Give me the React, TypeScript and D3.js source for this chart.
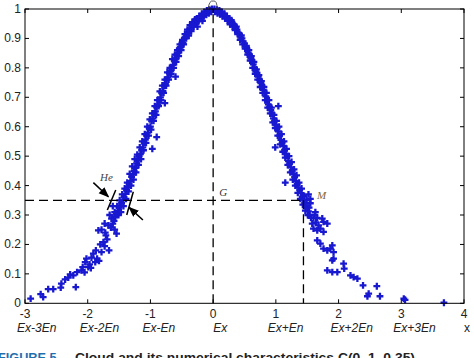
import React from "react";
import * as d3 from "d3";

const W = 474;
const H = 358;

const X_TICKS = [-3, -2, -1, 0, 1, 2, 3, 4];
const X_SUB = ["Ex-3En", "Ex-2En", "Ex-En", "Ex", "Ex+En", "Ex+2En", "Ex+3En", ""];
const Y_TICKS = [0, 0.1, 0.2, 0.3, 0.4, 0.5, 0.6, 0.7, 0.8, 0.9, 1];
const Y_LABELS = ["0", "0.1", "0.2", "0.3", "0.4", "0.5", "0.6", "0.7", "0.8", "0.9", "1"];

const G_LEVEL = 0.35;
const M_X = 1.44;

const bandLeft: [number, number][] = [
  [-0.02, 1.0], [-0.03, 0.99], [-0.06, 0.998], [-0.07, 0.985], [-0.1, 0.995], [-0.11, 0.98], [-0.09, 0.99],
  [-0.14, 0.99], [-0.15, 0.975], [-0.18, 0.984], [-0.19, 0.968], [-0.17, 0.96],
  [-0.22, 0.976], [-0.23, 0.962], [-0.26, 0.967], [-0.27, 0.95], [-0.25, 0.94],
  [-0.3, 0.956], [-0.31, 0.94], [-0.29, 0.965], [-0.34, 0.944], [-0.35, 0.925], [-0.33, 0.955],
  [-0.38, 0.93], [-0.39, 0.91], [-0.37, 0.945], [-0.42, 0.915], [-0.43, 0.9], [-0.41, 0.93],
  [-0.46, 0.9], [-0.47, 0.88], [-0.45, 0.915], [-0.5, 0.882], [-0.51, 0.86], [-0.49, 0.895],
  [-0.54, 0.865], [-0.55, 0.84], [-0.53, 0.88], [-0.58, 0.845], [-0.59, 0.82], [-0.57, 0.86],
  [-0.62, 0.825], [-0.63, 0.8], [-0.61, 0.845], [-0.66, 0.8], [-0.67, 0.78], [-0.65, 0.83],
  [-0.7, 0.783], [-0.71, 0.76], [-0.69, 0.8], [-0.74, 0.76], [-0.75, 0.74], [-0.73, 0.785],
  [-0.78, 0.74], [-0.79, 0.715], [-0.77, 0.76], [-0.82, 0.715], [-0.83, 0.69], [-0.81, 0.74],
  [-0.86, 0.69], [-0.87, 0.67], [-0.85, 0.72], [-0.9, 0.667], [-0.91, 0.64], [-0.89, 0.69],
  [-0.94, 0.645], [-0.95, 0.62], [-0.93, 0.67], [-0.98, 0.62], [-0.99, 0.59], [-0.97, 0.645],
  [-1.02, 0.595], [-1.03, 0.57], [-1.01, 0.625], [-1.06, 0.57], [-1.07, 0.545], [-1.05, 0.6],
  [-1.1, 0.546], [-1.11, 0.52], [-1.09, 0.575], [-1.14, 0.52], [-1.15, 0.49], [-1.13, 0.55],
  [-1.18, 0.5], [-1.19, 0.47], [-1.17, 0.53], [-1.22, 0.475], [-1.23, 0.445], [-1.21, 0.505],
  [-1.26, 0.45], [-1.27, 0.42], [-1.25, 0.49], [-1.3, 0.43], [-1.31, 0.4], [-1.29, 0.465],
  [-1.34, 0.405], [-1.35, 0.38], [-1.33, 0.44], [-1.38, 0.385], [-1.39, 0.355], [-1.37, 0.41],
  [-1.42, 0.36], [-1.43, 0.33], [-1.41, 0.39], [-1.46, 0.34], [-1.47, 0.31], [-1.45, 0.37],
  [-1.5, 0.325], [-1.51, 0.3], [-1.49, 0.35], [-1.54, 0.3], [-1.53, 0.33], [-1.58, 0.28], [-1.57, 0.31],
  [-0.77, 0.68], [-0.9, 0.565], [-0.97, 0.525], [-0.6, 0.77],
  [-0.04, 0.995], [-0.08, 0.993], [-0.12, 0.986], [-0.16, 0.982], [-0.2, 0.972], [-0.24, 0.958],
  [-0.28, 0.958], [-0.32, 0.946], [-0.36, 0.933], [-0.4, 0.917], [-0.44, 0.905], [-0.48, 0.885],
  [-0.52, 0.87], [-0.56, 0.85], [-0.6, 0.83], [-0.64, 0.81], [-0.68, 0.79], [-0.72, 0.768],
  [-0.76, 0.745], [-0.8, 0.722], [-0.84, 0.7], [-0.88, 0.675], [-0.92, 0.652], [-0.96, 0.628],
  [-1.0, 0.6], [-1.04, 0.58], [-1.08, 0.556], [-1.12, 0.53], [-1.16, 0.507], [-1.2, 0.485],
  [-1.24, 0.46], [-1.28, 0.437], [-1.32, 0.415], [-1.36, 0.395], [-1.4, 0.372], [-1.44, 0.35],
  [-1.48, 0.33], [-1.52, 0.313], [-1.56, 0.294],
];

const tailLeft: [number, number][] = [
  [-1.62, 0.288], [-1.54, 0.305], [-1.6, 0.271], [-1.57, 0.25], [-1.54, 0.237], [-1.63, 0.257],
  [-1.67, 0.265], [-1.71, 0.231], [-1.73, 0.271], [-1.78, 0.25], [-1.83, 0.248],
  [-1.69, 0.217], [-1.75, 0.208], [-1.73, 0.194], [-1.66, 0.18], [-1.78, 0.174], [-1.82, 0.144],
  [-1.85, 0.152], [-1.87, 0.18], [-1.91, 0.169], [-1.94, 0.155], [-1.97, 0.132], [-1.99, 0.123],
  [-2.02, 0.152], [-2.04, 0.14], [-2.08, 0.123], [-2.1, 0.112], [-2.17, 0.106], [-2.19, 0.055],
  [-2.23, 0.095], [-2.28, 0.098], [-2.31, 0.087], [-2.36, 0.081], [-2.42, 0.067], [-2.43, 0.053],
  [-2.55, 0.048], [-2.63, 0.048], [-2.71, 0.021], [-2.75, 0.031], [-2.91, 0.016],
  [-1.95, 0.12], [-2.05, 0.105], [-1.88, 0.14], [-1.8, 0.2], [-1.72, 0.24], [-1.65, 0.3], [-1.6, 0.33],
];

const bandRight: [number, number][] = [
  [0.02, 1.0], [0.03, 0.99], [0.06, 0.998], [0.07, 0.985], [0.1, 0.995], [0.11, 0.982],
  [0.14, 0.99], [0.15, 0.975], [0.13, 0.985], [0.18, 0.984], [0.19, 0.968],
  [0.22, 0.976], [0.23, 0.96], [0.21, 0.97], [0.26, 0.967], [0.27, 0.948],
  [0.3, 0.956], [0.31, 0.94], [0.29, 0.962], [0.34, 0.944], [0.35, 0.928],
  [0.38, 0.93], [0.39, 0.915], [0.37, 0.94], [0.42, 0.915], [0.43, 0.895],
  [0.46, 0.9], [0.47, 0.88], [0.45, 0.91], [0.5, 0.882], [0.51, 0.865],
  [0.54, 0.865], [0.55, 0.845], [0.53, 0.875], [0.58, 0.845], [0.59, 0.825], [0.57, 0.86],
  [0.62, 0.825], [0.63, 0.8], [0.61, 0.84], [0.66, 0.8], [0.67, 0.78], [0.65, 0.82],
  [0.7, 0.783], [0.71, 0.76], [0.69, 0.795], [0.74, 0.76], [0.75, 0.735], [0.73, 0.775],
  [0.78, 0.74], [0.79, 0.715], [0.77, 0.755], [0.82, 0.715], [0.83, 0.69], [0.81, 0.735],
  [0.86, 0.69], [0.87, 0.665], [0.85, 0.715], [0.9, 0.667], [0.91, 0.645], [0.89, 0.69],
  [0.94, 0.645], [0.95, 0.615], [0.93, 0.665], [0.98, 0.62], [0.99, 0.595], [0.97, 0.64],
  [1.02, 0.595], [1.03, 0.57], [1.01, 0.62], [1.06, 0.57], [1.07, 0.54], [1.05, 0.6],
  [1.1, 0.546], [1.11, 0.515], [1.09, 0.575], [1.14, 0.52], [1.15, 0.495], [1.13, 0.55],
  [1.18, 0.5], [1.19, 0.47], [1.17, 0.525], [1.22, 0.475], [1.23, 0.445], [1.21, 0.5],
  [1.26, 0.45], [1.27, 0.42], [1.25, 0.48], [1.3, 0.43], [1.31, 0.4], [1.29, 0.455],
  [1.34, 0.405], [1.35, 0.375], [1.33, 0.435], [1.38, 0.385], [1.39, 0.355], [1.37, 0.41],
  [1.42, 0.36], [1.43, 0.335], [1.41, 0.39], [1.46, 0.34], [1.47, 0.315], [1.45, 0.365],
  [1.5, 0.325], [1.51, 0.3], [1.49, 0.35], [1.54, 0.3], [1.53, 0.325], [1.55, 0.34],
  [1.04, 0.67], [0.99, 0.53], [1.15, 0.41],
  [0.04, 0.992], [0.08, 0.99], [0.12, 0.99], [0.16, 0.98], [0.2, 0.976], [0.24, 0.965],
  [0.28, 0.952], [0.32, 0.949], [0.36, 0.935], [0.4, 0.92], [0.44, 0.903], [0.48, 0.89],
  [0.52, 0.872], [0.56, 0.852], [0.6, 0.833], [0.64, 0.812], [0.68, 0.788], [0.72, 0.77],
  [0.76, 0.748], [0.8, 0.725], [0.84, 0.703], [0.88, 0.676], [0.92, 0.656], [0.96, 0.628],
  [1.0, 0.605], [1.04, 0.584], [1.08, 0.555], [1.12, 0.535], [1.16, 0.508], [1.2, 0.483],
  [1.24, 0.462], [1.28, 0.44], [1.32, 0.416], [1.36, 0.393], [1.4, 0.374], [1.44, 0.352],
  [1.48, 0.332], [1.52, 0.312], [1.56, 0.29],
];

const tailRight: [number, number][] = [
  [1.55, 0.355], [1.52, 0.37], [1.63, 0.31], [1.74, 0.288], [1.76, 0.277], [1.82, 0.271], [1.58, 0.271],
  [1.6, 0.254], [1.66, 0.248], [1.71, 0.254], [1.76, 0.243], [1.66, 0.214], [1.71, 0.203],
  [1.76, 0.186], [1.82, 0.18], [1.87, 0.186], [1.9, 0.197], [1.92, 0.174], [1.9, 0.146],
  [1.92, 0.152], [2.08, 0.135], [2.09, 0.118], [1.82, 0.112], [1.9, 0.106], [1.98, 0.106],
  [2.19, 0.095], [2.24, 0.089], [2.3, 0.084], [2.39, 0.061], [2.48, 0.033], [2.46, 0.024],
  [2.61, 0.058], [2.66, 0.024], [3.04, 0.016], [3.06, 0.012], [3.68, 0.002],
  [1.6, 0.29], [1.64, 0.275], [1.68, 0.265], [1.62, 0.3], [1.66, 0.29],
];

const drops = [...bandLeft, ...tailLeft, ...bandRight, ...tailRight];

export default function App() {
  const m = { l: 25, r: 464, t: 9, b: 303.3 };
  const x = d3.scaleLinear().domain([-3, 4]).range([m.l, m.r]);
  const y = d3.scaleLinear().domain([0, 1]).range([m.b, m.t]);
  const cross = d3.symbol().type(d3.symbolCross).size(26)();
  const blue = "#1818d0";
  const font = "'Liberation Sans', Arial, sans-serif";
  const serif = "'Liberation Serif', 'Times New Roman', serif";
  const dash = "9,5";
  const tick = 4;

  const x0 = x(0);
  const yTop = y(1);

  return (
    <svg width={W} height={H} style={{ position: "absolute", left: 0, top: 0, background: "#fff" }}>
      <defs>
        <marker id="ah" viewBox="0 0 10 10" refX="9" refY="5" markerWidth="7" markerHeight="7" orient="auto">
          <path d="M0,1 L10,5 L0,9 Z" fill="#000" />
        </marker>
      </defs>
      <rect x={0} y={0} width={W} height={H} fill="#fff" />

      {/* points */}
      <g fill={blue}>
        {drops.map(([dx, dy], i) => (
          <path key={i} d={cross} transform={`translate(${x(dx)},${y(dy)})`} />
        ))}
      </g>

      {/* dashed guide lines */}
      <g stroke="#000" strokeWidth={1.3} strokeDasharray={dash} fill="none">
        <line x1={x0} x2={x0} y1={y(0)} y2={y(1)} />
        <line x1={x(-3)} x2={x(M_X)} y1={y(G_LEVEL)} y2={y(G_LEVEL)} />
        <line x1={x(M_X)} x2={x(M_X)} y1={y(G_LEVEL)} y2={y(0)} />
      </g>

      {/* frame */}
      <rect x={m.l} y={m.t} width={m.r - m.l} height={m.b - m.t} fill="none" stroke="#000" strokeWidth={1} />

      {/* ticks */}
      <g stroke="#000" strokeWidth={1}>
        {X_TICKS.map((t) => (
          <g key={"xt" + t}>
            <line x1={x(t)} x2={x(t)} y1={m.b} y2={m.b - tick} />
            <line x1={x(t)} x2={x(t)} y1={m.t} y2={m.t + tick} />
          </g>
        ))}
        {Y_TICKS.map((t) => (
          <g key={"yt" + t}>
            <line x1={m.l} x2={m.l + tick} y1={y(t)} y2={y(t)} />
            <line x1={m.r} x2={m.r - tick} y1={y(t)} y2={y(t)} />
          </g>
        ))}
      </g>

      {/* tick labels */}
      <g fontFamily={font} fontSize={12} fill="#222">
        {X_TICKS.map((t) => (
          <text key={"xl" + t} x={x(t)} y={m.b + 15} textAnchor="middle">
            {String(t)}
          </text>
        ))}
        {X_TICKS.map((t, i) =>
          X_SUB[i] ? (
            <text key={"xs" + t} x={x(t) + (X_SUB[i] === "Ex" ? 0 : -8)} y={m.b + 29} fontStyle="italic">
              {X_SUB[i]}
            </text>
          ) : null
        )}
        <text x={m.r + 3} y={m.b + 29} textAnchor="middle">x</text>
        {Y_TICKS.map((t, i) => (
          <text key={"yl" + t} x={m.l - 4} y={y(t) + 4} textAnchor="end">
            {Y_LABELS[i]}
          </text>
        ))}
      </g>

      {/* peak marker */}
      <path
        d={`M${x0 - 5},${yTop} Q${x0 - 4},${yTop - 9} ${x0},${yTop - 8} Q${x0 + 4},${yTop - 9} ${x0 + 4},${yTop}`}
        fill="none"
        stroke="#333"
        strokeWidth={0.8}
      />

      {/* He annotation */}
      <g stroke="#000" strokeWidth={1.5} fill="none">
        <line x1={x(-1.91)} y1={y(0.41)} x2={x(-1.67)} y2={y(0.362)} markerEnd="url(#ah)" />
        <line x1={x(-1.12)} y1={y(0.283)} x2={x(-1.34)} y2={y(0.326)} markerEnd="url(#ah)" />
        <line x1={x(-1.553)} y1={y(0.385)} x2={x(-1.687)} y2={y(0.317)} />
        <line x1={x(-1.273)} y1={y(0.379)} x2={x(-1.378)} y2={y(0.3)} />
      </g>
      <g fontFamily={serif} fontStyle="italic" fontSize={11}>
        <text x={x(-1.7)} y={y(0.43) + 4} textAnchor="middle" fill="#444">He</text>
        <text x={x(0.16)} y={y(0.379) + 4} textAnchor="middle" fill="#333">G</text>
        <text x={x(1.73)} y={y(0.368) + 4} textAnchor="middle" fill="#7a6a40">M</text>
      </g>

      {/* caption (cut at the bottom edge, as in the reference) */}
      <g fontFamily={font} fontWeight="bold" fontSize={13}>
        <text x={-2} y={362} fill="#1f6fb0" textLength={62} lengthAdjust="spacingAndGlyphs">FIGURE 5.</text>
        <text x={75} y={362} fill="#222" textLength={340} lengthAdjust="spacingAndGlyphs">
          Cloud and its numerical characteristics C(0, 1, 0.35)
        </text>
      </g>
    </svg>
  );
}
